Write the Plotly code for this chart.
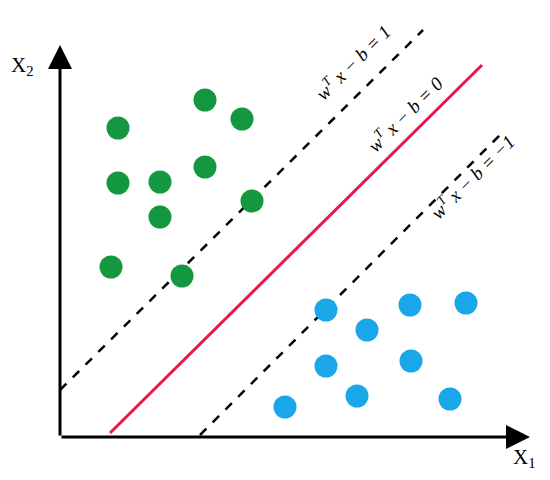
import plotly.graph_objects as go

# positions measured in the picture's pixel frame (x right, y down)
green_x = [118, 205, 242, 118, 160, 205, 160, 252, 111, 182]
green_y = [128, 100, 119, 183, 182, 167, 217, 201, 267, 276]
blue_x = [326, 410, 466, 367, 326, 411, 285, 357, 450]
blue_y = [310, 305, 303, 330, 366, 361, 407, 396, 399]

line_mid_x, line_mid_y = [110, 482], [433, 65]
line_up_x, line_up_y = [60, 423], [390, 30]
line_lo_x, line_lo_y = [200, 505], [435, 130]

labels = ["<i>w<sup>T</sup> x − b = 1</i>", "<i>w<sup>T</sup> x − b = 0</i>", "<i>w<sup>T</sup> x − b = −1</i>"]
label_x = [352, 404, 472]
label_y = [62, 114, 176]

fig = go.Figure()
fig.add_trace(go.Scatter(x=line_up_x, y=line_up_y, mode="lines",
                         line=dict(color="black", width=2.5, dash="dash")))
fig.add_trace(go.Scatter(x=line_lo_x, y=line_lo_y, mode="lines",
                         line=dict(color="black", width=2.5, dash="dash")))
fig.add_trace(go.Scatter(x=line_mid_x, y=line_mid_y, mode="lines",
                         line=dict(color="#e8174d", width=3)))
fig.add_trace(go.Scatter(x=green_x, y=green_y, mode="markers",
                         marker=dict(color="#14983f", size=23)))
fig.add_trace(go.Scatter(x=blue_x, y=blue_y, mode="markers",
                         marker=dict(color="#1aa7ea", size=23)))

for t, x, y in zip(labels, label_x, label_y):
    fig.add_annotation(x=x, y=y, text=t, showarrow=False, textangle=-45,
                       font=dict(family="Liberation Serif", size=19, color="black"))

# axes arrows
fig.add_annotation(x=60, y=45, ax=60, ay=437, xref="x", yref="y", axref="x", ayref="y",
                   showarrow=True, arrowhead=2, arrowsize=1.6, arrowwidth=3, arrowcolor="black", text="")
fig.add_annotation(x=530, y=437, ax=60, ay=437, xref="x", yref="y", axref="x", ayref="y",
                   showarrow=True, arrowhead=2, arrowsize=1.6, arrowwidth=3, arrowcolor="black", text="")
fig.add_annotation(x=22, y=66, text="X<sub>2</sub>", showarrow=False,
                   font=dict(family="Liberation Serif", size=21, color="black"))
fig.add_annotation(x=524, y=458, text="X<sub>1</sub>", showarrow=False,
                   font=dict(family="Liberation Serif", size=21, color="black"))

fig.update_layout(width=550, height=480, margin=dict(l=0, r=0, t=0, b=0),
                  showlegend=False, plot_bgcolor="white", paper_bgcolor="white")
# page offset of ~8px compensated in the ranges
fig.update_xaxes(range=[8, 558], visible=False)
fig.update_yaxes(range=[488, 8], visible=False)
fig.write_html("out.html")
